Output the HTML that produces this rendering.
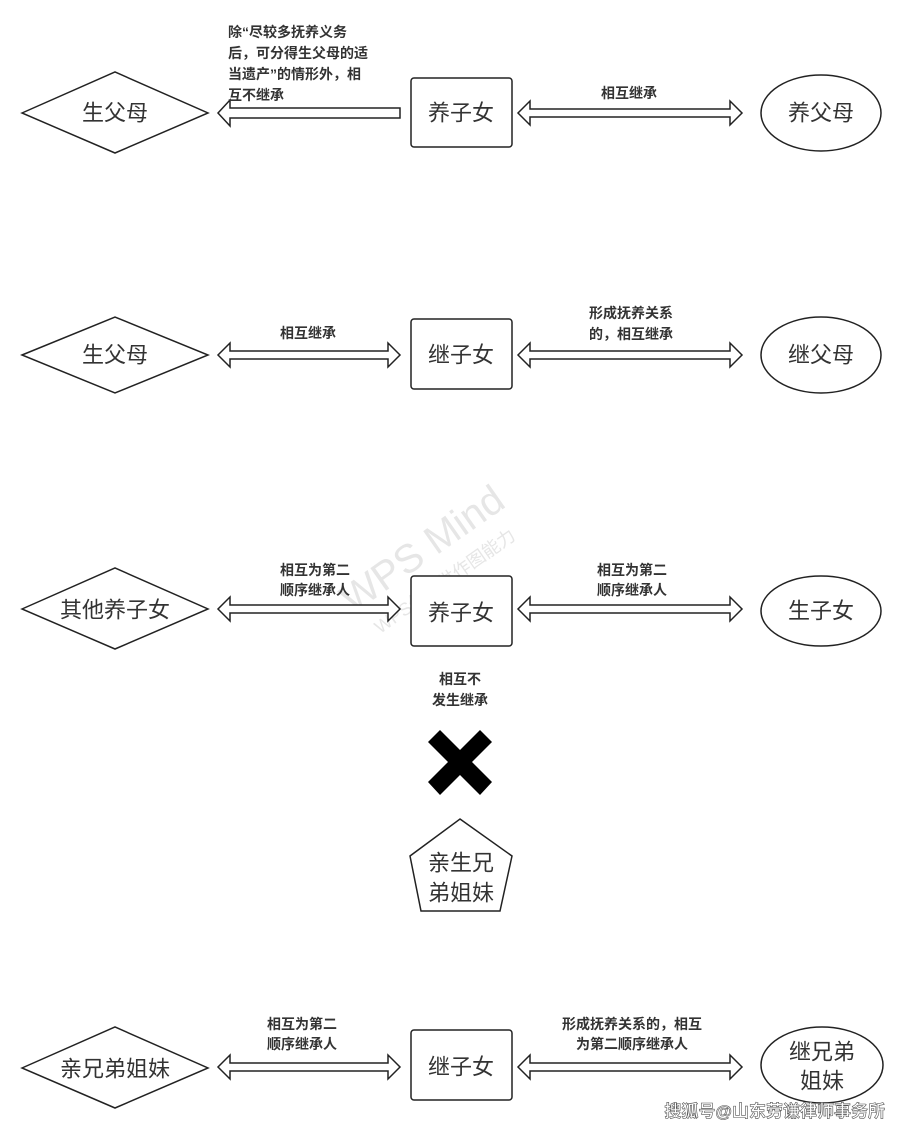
<!DOCTYPE html>
<html><head><meta charset="utf-8"><style>
body{margin:0;background:#fff}
svg{display:block}
text{font-family:"Liberation Sans","Noto Sans CJK SC",sans-serif}
.n{font-size:22px;fill:#333;text-anchor:middle;dominant-baseline:central}
.l{font-size:14px;font-weight:bold;fill:#333;text-anchor:middle}
.s{fill:#fff;stroke:#222;stroke-width:1.5}
</style></head><body>
<svg width="905" height="1131" viewBox="0 0 905 1131">
<g transform="translate(430,560) rotate(-35)" fill="#e6e6e6" text-anchor="middle">
<text x="0" y="0" font-size="40" font-family="Liberation Sans,sans-serif">WPS Mind</text>
<text x="0" y="32" font-size="18" font-family="Liberation Sans,Noto Sans CJK SC,sans-serif">WPS仅提供作图能力</text>
</g>

<!-- Row 1 -->
<polygon class="s" points="22,113 115,72 208,113 115,153"/><text class="n" x="115" y="113">生父母</text>
<rect class="s" x="411" y="78" width="101" height="69" rx="3"/><text class="n" x="461" y="113">养子女</text>
<ellipse class="s" cx="821" cy="113" rx="60" ry="38"/><text class="n" x="821" y="113">养父母</text>
<path class="s" d="M400,108 L230,108 L230,100 L218,113 L230,126 L230,118 L400,118 Z"/>
<path class="s" d="M530,109 L730,109 L730,101 L742,113 L730,125 L730,117 L530,117 L530,125 L518,113 L530,101 Z"/>
<text class="l" x="629" y="98">相互继承</text>
<text class="l" x="228" y="37" style="text-anchor:start">除“尽较多抚养义务</text>
<text class="l" x="228" y="58" style="text-anchor:start">后，可分得生父母的适</text>
<text class="l" x="228" y="79" style="text-anchor:start">当遗产”的情形外，相</text>
<text class="l" x="228" y="100" style="text-anchor:start">互不继承</text>

<!-- Row 2 -->
<polygon class="s" points="22,355 115,317 208,355 115,393"/><text class="n" x="115" y="355">生父母</text>
<rect class="s" x="411" y="319" width="101" height="70" rx="3"/><text class="n" x="461" y="355">继子女</text>
<ellipse class="s" cx="821" cy="355" rx="60" ry="38"/><text class="n" x="821" y="355">继父母</text>
<path class="s" d="M230,351 L388,351 L388,343 L400,355 L388,367 L388,359 L230,359 L230,367 L218,355 L230,343 Z"/>
<path class="s" d="M530,351 L730,351 L730,343 L742,355 L730,367 L730,359 L530,359 L530,367 L518,355 L530,343 Z"/>
<text class="l" x="308" y="338">相互继承</text>
<text class="l" x="631" y="318">形成抚养关系</text>
<text class="l" x="631" y="339">的，相互继承</text>

<!-- Row 3 -->
<polygon class="s" points="22,609 115,568 208,609 115,649"/><text class="n" x="115" y="610">其他养子女</text>
<rect class="s" x="411" y="576" width="101" height="70" rx="3"/><text class="n" x="461" y="613">养子女</text>
<ellipse class="s" cx="821" cy="611" rx="60" ry="35"/><text class="n" x="821" y="611">生子女</text>
<path class="s" d="M230,605 L388,605 L388,597 L400,609 L388,621 L388,613 L230,613 L230,621 L218,609 L230,597 Z"/>
<path class="s" d="M530,605 L730,605 L730,597 L742,609 L730,621 L730,613 L530,613 L530,621 L518,609 L530,597 Z"/>
<text class="l" x="315" y="575">相互为第二</text>
<text class="l" x="315" y="595">顺序继承人</text>
<text class="l" x="632" y="575">相互为第二</text>
<text class="l" x="632" y="595">顺序继承人</text>
<text class="l" x="460" y="684">相互不</text>
<text class="l" x="460" y="705">发生继承</text>
<polygon fill="#000" points="428,742 440,730 460,750 480,730 492,742 472,762 492,782 480,795 460,775 440,795 428,782 448,762"/>
<polygon class="s" points="460,819 512,856 500,911 421,911 410,856"/>
<text class="n" x="461" y="863">亲生兄</text>
<text class="n" x="461" y="893">弟姐妹</text>

<!-- Row 4 -->
<polygon class="s" points="22,1068 115,1027 208,1068 115,1108"/><text class="n" x="115" y="1069">亲兄弟姐妹</text>
<rect class="s" x="411" y="1030" width="101" height="70" rx="3"/><text class="n" x="461" y="1067">继子女</text>
<ellipse class="s" cx="822" cy="1065" rx="61" ry="38"/>
<text class="n" x="822" y="1052">继兄弟</text><text class="n" x="822" y="1081">姐妹</text>
<path class="s" d="M230,1063 L388,1063 L388,1055 L400,1067 L388,1079 L388,1071 L230,1071 L230,1079 L218,1067 L230,1055 Z"/>
<path class="s" d="M530,1063 L730,1063 L730,1055 L742,1067 L730,1079 L730,1071 L530,1071 L530,1079 L518,1067 L530,1055 Z"/>
<text class="l" x="302" y="1029">相互为第二</text>
<text class="l" x="302" y="1049">顺序继承人</text>
<text class="l" x="632" y="1029">形成抚养关系的，相互</text>
<text class="l" x="632" y="1049">为第二顺序继承人</text>

<text x="885" y="1117" text-anchor="end" font-size="17" font-weight="bold" fill="#fff" stroke="#555" stroke-width="0.6" font-family="Liberation Sans,Noto Sans CJK SC,sans-serif">搜狐号@山东劳谦律师事务所</text>
</svg>
</body></html>
